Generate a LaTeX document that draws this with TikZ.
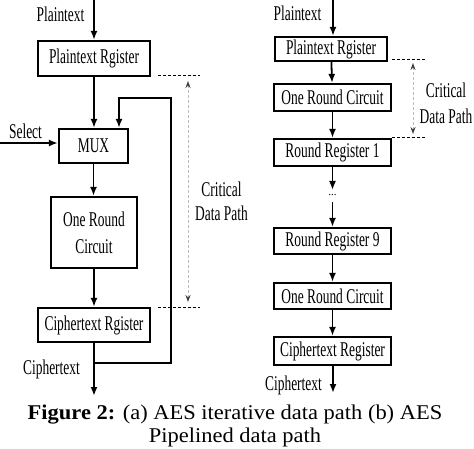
\documentclass[tikz,border=0pt]{standalone}
\usepackage{fontspec}
\setmainfont{Liberation Serif}
\newfontfamily\boxfont{Liberation Serif}[FakeStretch=0.64]
\newfontfamily\capfont{Liberation Serif}[FakeStretch=1.07]
\usetikzlibrary{arrows.meta,positioning}

\begin{document}
\begin{tikzpicture}[x=1pt,y=-1pt,line width=1.8pt,
    blk/.style={draw,line width=2.2pt,inner sep=0pt,font=\boxfont\fontsize{21}{24}\selectfont},
    lbl/.style={inner sep=0pt,font=\boxfont\fontsize{21}{24}\selectfont},
    flow/.style={-{Latex[length=9pt,width=7pt]},line width=1.8pt},
    back/.style={line width=2.6pt},
    guide/.style={dash pattern=on 3pt off 2pt,line width=0.8pt},
    crit/.style={{Stealth[length=7pt,width=5pt,color=black!75]}-{Stealth[length=7pt,width=5pt,color=black!75]},
      dash pattern=on 3pt off 2pt,gray!55,line width=1pt}]

      \useasboundingbox (0,0) rectangle (474,449);

      % (a) iterative data path
      \node[blk,minimum width=112pt,minimum height=35pt] (preg) at (94,58.5) {Plaintext Rgister};
      \node[blk,minimum width=69pt,minimum height=34pt] (mux) at (93.5,146) {MUX};
      \node[blk,minimum width=86pt,minimum height=71pt,align=center] (orc) at (94,232.5) {One Round\\[3pt]Circuit};
      \node[blk,minimum width=112pt,minimum height=34pt] (creg) at (94,325) {Ciphertext Rgister};

      \node[lbl] (lplain) at (60.5,14) {Plaintext};
      \node[lbl] (select) at (25.5,131) {Select};
      \node[lbl] (lcipher) at (51.5,369) {Ciphertext};
      \node[lbl,align=center] (lcrit) at (221.5,201) {Critical\\Data Path};

      \coordinate (lin) at (94,0);
      \coordinate (lout) at (94,396);
      \coordinate (sel) at (0,143);
      \coordinate (fb) at (94,363);
      \coordinate (fbr) at (171,363);
      \coordinate (fbt) at (171,98);
      \coordinate (fbl) at (119,98);

      \draw[flow] (lin) -- (preg);
      \draw[flow] (preg) -- (preg.south |- mux.north);
      \draw[flow] (sel) -- (sel -| mux.west);
      \draw[flow] (mux) -- (mux.south |- orc.north);
      \draw[flow] (orc) -- (creg);
      \draw[flow] (creg) -- (lout);
      \draw[back] (fb) -- (fbr) -- (fbt) -- (fbl) -- ++(0,10);
      \draw[flow] (fbl) -- (fbl |- mux.north);

      \draw[guide] (158,75) -- (200,75);
      \draw[guide] (158,307) -- (200,307);
      \draw[crit] (188,81) -- (188,302);

      % (b) pipelined data path
      \node[blk,minimum width=112pt,minimum height=24pt] (ppreg) at (331,49) {Plaintext Rgister};
      \node[blk,minimum width=117pt,minimum height=27pt] (porc) at (332.5,97.5) {One Round Circuit};
      \node[blk,minimum width=117pt,minimum height=27pt] (prr1) at (332.5,152.5) {Round Register 1};
      \node[inner sep=0pt,font=\fontsize{11}{11}\selectfont] (dots) at (332.5,195) {...};
      \node[blk,minimum width=117pt,minimum height=26pt] (prr9) at (332.5,241) {Round Register 9};
      \node[blk,minimum width=117pt,minimum height=26pt] (porc2) at (332.5,296) {One Round Circuit};
      \node[blk,minimum width=117pt,minimum height=28pt] (pcreg) at (332.5,351) {Ciphertext Register};

      \node[lbl] (pplain) at (297.5,13) {Plaintext};
      \node[lbl] (pcipher) at (293.5,385) {Ciphertext};
      \node[lbl,align=center] (pcrit) at (446,103) {Critical\\[2pt]Data Path};

      \coordinate (pin) at (333,0);
      \coordinate (pout) at (333,393);
      \coordinate (dtop) at (332.5,190);
      \coordinate (dbot) at (332.5,202);

      \draw[flow] (pin) -- (pin |- ppreg.north);
      \draw[flow] (ppreg) -- (porc);
      \draw[flow] (porc) -- (prr1);
      \draw[flow] (prr1) -- (dtop);
      \draw[flow] (dbot) -- (prr9);
      \draw[flow] (prr9) -- (porc2);
      \draw[flow] (porc2) -- (pcreg);
      \draw[flow] (pcreg.south -| pout) -- (pout);

      \draw[guide] (392,59.5) -- (425,59.5);
      \draw[guide] (392,137) -- (425,137);
      \draw[crit] (413,63) -- (413,134);

      % caption
      \node[inner sep=0pt,align=center,font=\capfont\fontsize{21}{23.5}\selectfont] (cap) at (235,426)
        {\textbf{Figure 2:} (a) AES iterative data path (b) AES\\Pipelined data path};

\end{tikzpicture}
\end{document}
